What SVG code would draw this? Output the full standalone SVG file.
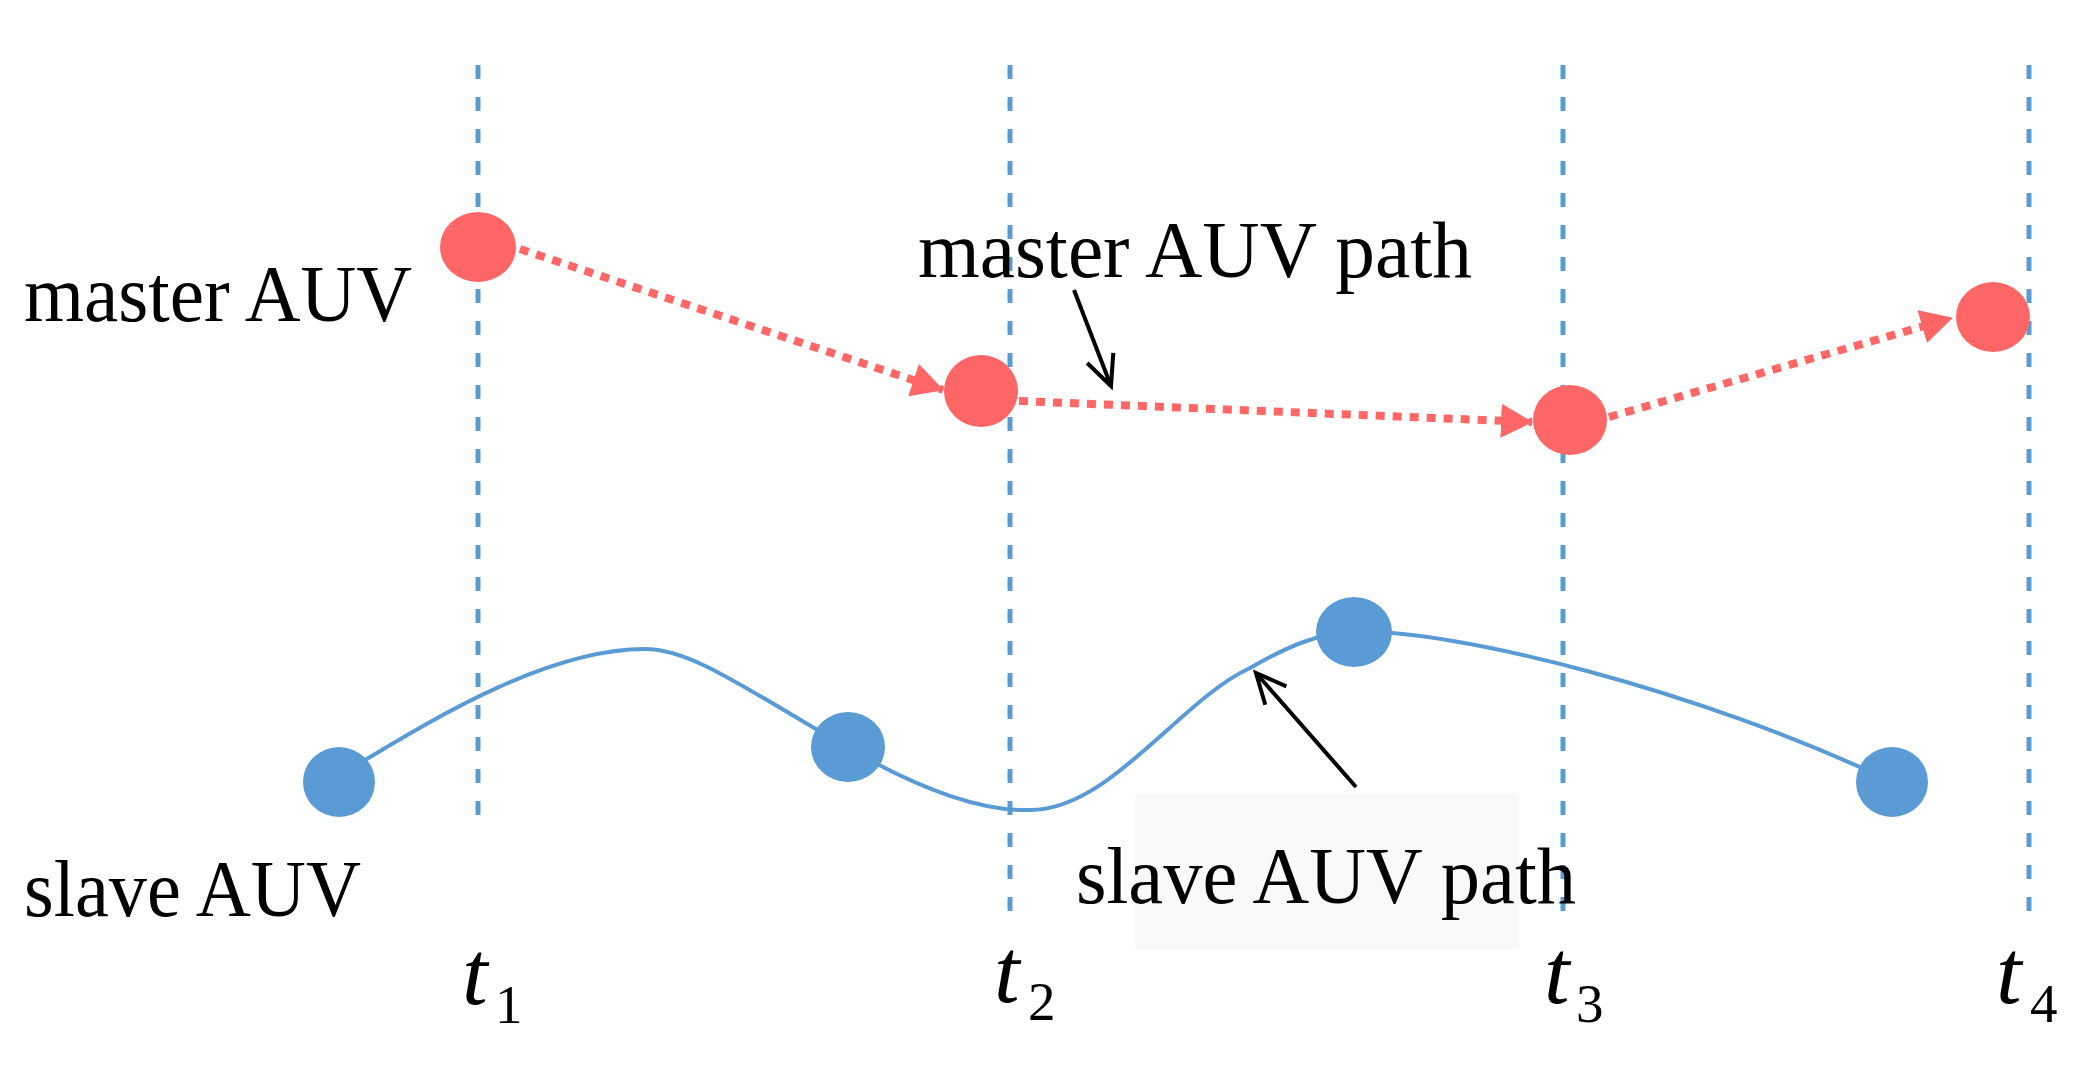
<svg xmlns="http://www.w3.org/2000/svg" width="2082" height="1065" viewBox="0 0 2082 1065">
<style>
.grid{stroke:#5b9bd5;stroke-width:5;stroke-dasharray:14 18;fill:none}
.red{fill:#ff6666}
.blue{fill:#5b9bd5}
.rpath{stroke:#ff6666;stroke-width:8;stroke-dasharray:9 8;fill:none}
.bpath{stroke:#5b9bd5;stroke-width:4;fill:none}
.ann{stroke:#000;stroke-width:4;fill:none}
.lbl{font-family:"Liberation Serif","Times New Roman",serif;font-size:80px;fill:#000}
.tl{font-family:"Liberation Serif","Times New Roman",serif;font-style:italic;font-size:92px;fill:#000}
.sub{font-family:"Liberation Serif","Times New Roman",serif;font-style:normal;font-size:55px}
</style>
<defs>
<marker id="redTri" markerUnits="userSpaceOnUse" viewBox="0 0 32 34" markerWidth="32" markerHeight="34" refX="31" refY="17" orient="auto">
<path d="M0,0 L32,17 L0,34 z" fill="#ff6666"/>
</marker>
<marker id="openArr" markerUnits="userSpaceOnUse" viewBox="-3 -3 38 34" markerWidth="38" markerHeight="34" refX="30" refY="14" orient="auto">
<path d="M0,0 L30,14 L0,28" fill="none" stroke="#000" stroke-width="4"/>
</marker>
</defs>
<rect width="2082" height="1065" fill="#fff"/>
<rect x="1135" y="794" width="384" height="155" fill="#f9f9f9"/>
<g id="time-lines">
<line class="grid" x1="478" y1="65" x2="478" y2="817"/>
<line class="grid" x1="1010" y1="65" x2="1010" y2="914"/>
<line class="grid" x1="1563" y1="65" x2="1563" y2="916"/>
<line class="grid" x1="2029" y1="65" x2="2029" y2="914"/>
</g>
<g id="connectors">
<line class="rpath" x1="520" y1="249" x2="943" y2="390" marker-end="url(#redTri)"/>
<line class="rpath" x1="1019" y1="401" x2="1532" y2="422" marker-end="url(#redTri)"/>
<line class="rpath" x1="1609" y1="417" x2="1952" y2="318" marker-end="url(#redTri)"/>
<path class="bpath" d="M339,782 L365,760 C440,715 550,649 645,649 C690,649 740,685 848,748 C900,778 970,812 1030,810 C1110,810 1180,700 1250,668 C1290,645 1320,633 1354,632 C1450,628 1700,690 1892,782"/>
<line class="ann" x1="1074" y1="290" x2="1111" y2="386" marker-end="url(#openArr)"/>
<line class="ann" x1="1356" y1="787" x2="1256" y2="673" marker-end="url(#openArr)"/>
</g>
<g id="master-t1"><ellipse class="red" cx="478" cy="247" rx="38" ry="35"/></g>
<g id="master-t2"><ellipse class="red" cx="981" cy="391" rx="37" ry="36"/></g>
<g id="master-t3"><ellipse class="red" cx="1570" cy="420" rx="37" ry="35"/></g>
<g id="master-t4"><ellipse class="red" cx="1993" cy="317" rx="37" ry="35"/></g>
<g id="slave-1"><ellipse class="blue" cx="339" cy="782" rx="36" ry="35"/></g>
<g id="slave-2"><ellipse class="blue" cx="848" cy="747" rx="37" ry="35"/></g>
<g id="slave-3"><ellipse class="blue" cx="1354" cy="632" rx="38" ry="35"/></g>
<g id="slave-4"><ellipse class="blue" cx="1892" cy="782" rx="36" ry="35"/></g>
<g id="labels">
<text class="lbl" x="24" y="321" textLength="388" lengthAdjust="spacingAndGlyphs">master AUV</text>
<text class="lbl" x="918" y="277" textLength="554" lengthAdjust="spacingAndGlyphs">master AUV path</text>
<text class="lbl" x="24" y="916" textLength="337" lengthAdjust="spacingAndGlyphs">slave AUV</text>
<text class="lbl" x="1076" y="903" textLength="500" lengthAdjust="spacingAndGlyphs">slave AUV path</text>
<text class="tl" x="462" y="1004">t<tspan class="sub" x="495" y="1023">1</tspan></text>
<text class="tl" x="994" y="1002">t<tspan class="sub" x="1028" y="1020">2</tspan></text>
<text class="tl" x="1544" y="1003">t<tspan class="sub" x="1576" y="1022">3</tspan></text>
<text class="tl" x="1996" y="1003">t<tspan class="sub" x="2030" y="1022">4</tspan></text>
</g>
</svg>
